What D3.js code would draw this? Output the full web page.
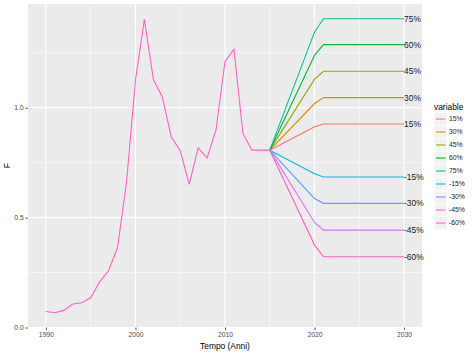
<!DOCTYPE html>
<html>
<head>
<meta charset="utf-8">
<script src="https://cdn.jsdelivr.net/npm/d3@7"></script>
<style>
  body { margin: 0; background: #fff; }
  svg { display: block; font-family: "Liberation Sans", Arial, sans-serif; }
</style>
</head>
<body>
<div id="chart"></div>
<script>
// historical series 1990-2015
const histYears = d3.range(1990, 2016);
const histValues = [0.073, 0.067, 0.078, 0.107, 0.113, 0.135, 0.208, 0.258, 0.364, 0.66,
  1.125, 1.402, 1.128, 1.049, 0.867, 0.804, 0.651, 0.817, 0.772, 0.90,
  1.211, 1.266, 0.883, 0.807, 0.807, 0.807];

// scenarios
const projYears = [2015, 2020, 2021, 2030];
const scenarioNames = ["15%", "30%", "45%", "60%", "75%", "-15%", "-30%", "-45%", "-60%"];
const scenarioValues = [
  [0.807, 0.913, 0.926, 0.926],
  [0.807, 1.019, 1.046, 1.046],
  [0.807, 1.130, 1.166, 1.166],
  [0.807, 1.239, 1.287, 1.287],
  [0.807, 1.345, 1.405, 1.405],
  [0.807, 0.700, 0.685, 0.685],
  [0.807, 0.587, 0.565, 0.565],
  [0.807, 0.478, 0.443, 0.443],
  [0.807, 0.375, 0.322, 0.322]
];
const colors = ["#F8766D", "#D39200", "#93AA00", "#00BA38", "#00C19F", "#00B9E3", "#619CFF", "#DB72FB", "#FF61C3"];

const xTicks = [1990, 2000, 2010, 2020, 2030];
const yTicks = [0, 0.5, 1.0];

const W = 474, H = 354;
const panel = { left: 28, right: 422, top: 4, bottom: 327.5 };

const svg = d3.select("#chart").append("svg").attr("width", W).attr("height", H);

// scales with ggplot-like 5% expansion
const xExt = [1990, 2030];
const xPad = (xExt[1] - xExt[0]) * 0.05;
const x = d3.scaleLinear().domain([xExt[0] - xPad, xExt[1] + xPad]).range([panel.left, panel.right]);

const allVals = histValues.concat(scenarioValues.flat());
const yMin = d3.min(allVals), yMax = d3.max(allVals);
const yPad = (yMax - yMin) * 0.05;
const y = d3.scaleLinear().domain([yMin - yPad, yMax + yPad]).range([panel.bottom, panel.top]);

// panel
svg.append("rect")
  .attr("x", panel.left).attr("y", panel.top)
  .attr("width", panel.right - panel.left).attr("height", panel.bottom - panel.top)
  .attr("fill", "#EBEBEB");

const grid = svg.append("g");
// minor grid
d3.range(1995, 2031, 10).forEach(v => {
  grid.append("line").attr("x1", x(v)).attr("x2", x(v)).attr("y1", panel.top).attr("y2", panel.bottom)
    .attr("stroke", "#fff").attr("stroke-width", 0.5);
});
[0.25, 0.75, 1.25].forEach(v => {
  grid.append("line").attr("x1", panel.left).attr("x2", panel.right).attr("y1", y(v)).attr("y2", y(v))
    .attr("stroke", "#fff").attr("stroke-width", 0.5);
});
// major grid
xTicks.forEach(v => {
  grid.append("line").attr("x1", x(v)).attr("x2", x(v)).attr("y1", panel.top).attr("y2", panel.bottom)
    .attr("stroke", "#fff").attr("stroke-width", 1);
});
yTicks.forEach(v => {
  grid.append("line").attr("x1", panel.left).attr("x2", panel.right).attr("y1", y(v)).attr("y2", y(v))
    .attr("stroke", "#fff").attr("stroke-width", 1);
});

// axes
const xAxis = svg.append("g")
  .attr("transform", "translate(0," + panel.bottom + ")")
  .call(d3.axisBottom(x).tickValues(xTicks).tickFormat(d3.format("d")).tickSize(2.7).tickPadding(1.5));
const yAxis = svg.append("g")
  .attr("transform", "translate(" + panel.left + ",0)")
  .call(d3.axisLeft(y).tickValues(yTicks).tickFormat(d3.format(".1f")).tickSize(2.7).tickPadding(1.5));
[xAxis, yAxis].forEach(a => {
  a.select(".domain").remove();
  a.selectAll(".tick line").attr("stroke", "#333").attr("stroke-width", 0.8);
  a.selectAll(".tick text").attr("fill", "#4D4D4D").attr("font-size", "6.8px")
    .attr("font-family", "Liberation Sans, Arial, sans-serif");
});

svg.append("text")
  .attr("x", (panel.left + panel.right) / 2).attr("y", 348.5)
  .attr("text-anchor", "middle").attr("font-size", "8.4px").attr("fill", "#000")
  .text("Tempo (Anni)");
svg.append("text")
  .attr("transform", "translate(10," + ((panel.top + panel.bottom) / 2) + ") rotate(-90)")
  .attr("text-anchor", "middle").attr("font-size", "8.4px").attr("fill", "#000")
  .text("F");

// lines
const line = d3.line().x(d => x(d[0])).y(d => y(d[1]));
const plot = svg.append("g");
scenarioNames.forEach((name, i) => {
  const pts = projYears.map((yr, j) => [yr, scenarioValues[i][j]]);
  plot.append("path").datum(pts).attr("d", line)
    .attr("fill", "none").attr("stroke", colors[i]).attr("stroke-width", 1.1);
});
plot.append("path").datum(histYears.map((yr, j) => [yr, histValues[j]])).attr("d", line)
  .attr("fill", "none").attr("stroke", colors[colors.length - 1]).attr("stroke-width", 1.1);

// end labels
scenarioNames.forEach((name, i) => {
  const last = scenarioValues[i][scenarioValues[i].length - 1];
  svg.append("text")
    .attr("x", x(2030)).attr("y", y(last)).attr("dy", "0.35em")
    .attr("font-size", "8.4px").attr("fill", "#1a1a1a")
    .text(name);
});

// legend
const legend = svg.append("g").attr("transform", "translate(434,0)");
legend.append("text").attr("x", 0).attr("y", 110).attr("font-size", "8.4px").attr("fill", "#000").text("variable");
const keyStep = 13.0, keyTop = 112.5;
scenarioNames.forEach((name, i) => {
  const ky = keyTop + i * keyStep;
  legend.append("rect").attr("x", 0.5).attr("y", ky).attr("width", 12.5).attr("height", keyStep)
    .attr("fill", "#F2F2F2").attr("stroke", "#fff").attr("stroke-width", 0.6);
  legend.append("line").attr("x1", 2).attr("x2", 11.5).attr("y1", ky + keyStep / 2).attr("y2", ky + keyStep / 2)
    .attr("stroke", colors[i]).attr("stroke-width", 1.1);
  legend.append("text").attr("x", 15).attr("y", ky + keyStep / 2).attr("dy", "0.35em")
    .attr("font-size", "6.8px").attr("fill", "#1a1a1a").text(name);
});
</script>
</body>
</html>
